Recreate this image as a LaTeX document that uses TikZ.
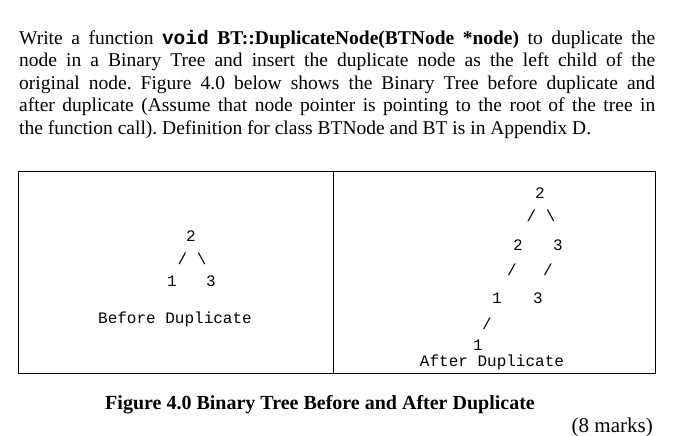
\documentclass[tikz,border=0pt]{standalone}
\usepackage{fontspec}
\setmainfont{Liberation Serif}
\setmonofont{Liberation Mono}
\begin{document}
\begin{tikzpicture}[x=1pt,y=-1pt,
  mono/.style={font=\fontsize{16}{18}\selectfont\ttfamily,inner sep=0pt}]
\useasboundingbox[fill=white] (0,0) rectangle (691,436);
\node[anchor=north west,text width=636pt,align=justify,inner sep=0pt,font=\fontsize{19.5}{22.5}\selectfont\frenchspacing] (para) at (19,30)
{Write a function {\ttfamily\bfseries void} \textbf{BT::DuplicateNode(BTNode *node)} to duplicate the\linebreak node in a Binary Tree and insert the duplicate node as the left child of the\linebreak original node. Figure 4.0 below shows the Binary Tree before duplicate and\linebreak after duplicate (Assume that node pointer is pointing to the root of the tree in\linebreak the function call). Definition for class BTNode and BT is in Appendix D.};
\draw[line width=0.8pt] (18,171) rectangle (655,373);
\draw[line width=0.8pt] (333,171) -- (333,373);
% before
\node[mono] (b2) at (191,236) {2};
\node[mono] (bs) at (192,259) {/ \textbackslash};
\node[mono] (b1) at (172,281) {1};
\node[mono] (b3) at (211,281) {3};
\node[mono] (bl) at (175,319) {Before Duplicate};
% after
\node[mono] (a2) at (540,193) {2};
\node[mono] (as) at (541,216) {/ \textbackslash};
\node[mono] (a2b) at (518,245) {2};
\node[mono] (a3) at (558,245) {3};
\node[mono] (asl) at (512,270) {/};
\node[mono] (asr) at (548,270) {/};
\node[mono] (a1) at (497,298) {1};
\node[mono] (a3b) at (538,298) {3};
\node[mono] (asl2) at (487,324) {/};
\node[mono] (a1b) at (478,345) {1};
\node[mono] (al) at (492,362) {After Duplicate};
\node[font=\fontsize{20}{22}\selectfont\bfseries,inner sep=0pt] (cap) at (320,405) {Figure 4.0 Binary Tree Before and After Duplicate};
\node[anchor=east,font=\fontsize{21}{22}\selectfont,inner sep=0pt] (marks) at (653,427) {(8 marks)};
\end{tikzpicture}
\end{document}
